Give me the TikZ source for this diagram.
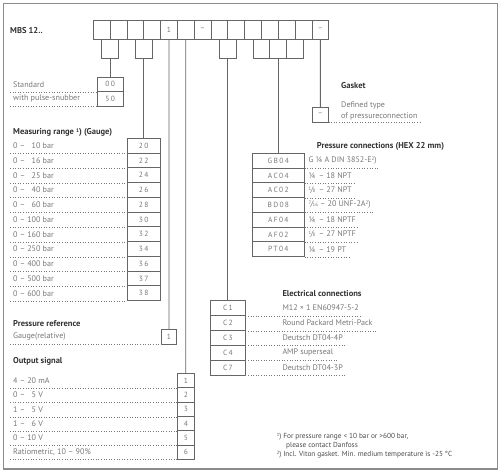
\documentclass[tikz,border=0pt]{standalone}
\usepackage{fontspec}
\usepackage{graphicx}
\setmainfont{PT Sans}
\newfontfamily\cellfont[LetterSpace=18]{PT Sans}
\definecolor{linegray}{HTML}{666666}
\definecolor{labelgray}{HTML}{777777}
\definecolor{headcol}{HTML}{333333}
\definecolor{framecol}{HTML}{8C8C8C}
\definecolor{footcol}{HTML}{4A4A4A}
\newcommand\fr[2]{\raisebox{0.5ex}{\scalebox{0.6}{#1}}\kern-0.08em/\kern-0.08em\scalebox{0.6}{#2}}
\newcommand\sups[1]{\raisebox{0.55ex}{\scalebox{0.62}{#1}})}
\begin{document}
\begin{tikzpicture}[x=1pt,y=-1pt,
  cell/.style={draw=linegray, line width=0.85pt, inner sep=0pt, font=\cellfont\fontsize{7.5}{9}\selectfont, text=labelgray},
  lbl/.style={anchor=west, inner xsep=3pt, inner ysep=0pt, font=\fontsize{8.1}{9.6}\selectfont, text=labelgray},
  head/.style={anchor=west, inner sep=0pt, font=\bfseries\fontsize{8.5}{10}\selectfont, text=headcol},
  leader/.style={draw=labelgray, dotted, line width=0.6pt},
  conn/.style={draw=linegray, line width=0.85pt},
  foot/.style={anchor=west, inner sep=0pt, font=\fontsize{7.3}{8.6}\selectfont, text=footcol}]
\useasboundingbox (0,0) rectangle (500,473);
\draw[framecol, line width=1.3pt] (3.3,3.3) rectangle (497.3,469);

% title
\node[head] (title) at (10,31) {MBS 12..};

% top row of code cells
\foreach \i/\c in {1/{},2/{},3/{},4/{},5/1,6/{},7/–,8/{},9/{},10/{},11/{},12/{},13/{},14/–}
  \node[cell, minimum width=16.82pt, minimum height=19.3pt] (t\i) at ({93.3+16.82*(\i-0.5)},29.65) {\c};

% second level boxes
\tikzset{sub/.style={cell, minimum width=16.82pt, minimum height=19pt}}
\node[sub] (sA) at (110.12,48.8) {};
\node[sub] (sB) at (143.76,48.8) {};
\node[sub] (sC) at (227.86,48.8) {};
\node[sub] (sD1) at (261.50,48.8) {};
\node[sub] (sD2) at (278.32,48.8) {};
\node[sub] (sD3) at (295.14,48.8) {};

% Standard / snubber
\node[cell, minimum width=26pt, minimum height=14.5pt] (std1) at (110.12,84.25) {00};
\node[cell, minimum width=26pt, minimum height=14.5pt] (std2) at (110.12,98.75) {50};
\node[lbl] (stdl1) at (10,84.25) {Standard};
\node[lbl] (stdl2) at (10,98.75) {with pulse-snubber};
\draw[leader] (stdl1.west |- std1.south west) -- (std1.south west);
\draw[leader] (stdl2.west |- std2.south west) -- (std2.south west);
\draw[conn] (sA.south) -- (std1.north);

% Measuring range
\node[head] (mrh) at (13,132.7) {Measuring range \sups{1} (Gauge)};
\foreach \k/\c/\t in {1/20/{0 – \hphantom{1}10 bar},2/22/{0 – \hphantom{1}16 bar},3/24/{0 – \hphantom{1}25 bar},4/26/{0 – \hphantom{1}40 bar},5/28/{0 – \hphantom{1}60 bar},6/30/{0 – 100 bar},7/32/{0 – 160 bar},8/34/{0 – 250 bar},9/36/{0 – 400 bar},10/37/{0 – 500 bar},11/38/{0 – 600 bar}}{
  \node[cell, minimum width=33.3pt, minimum height=14.76pt] (mr\k) at (143.76,{138.3+14.76*(\k-0.5)}) {\c};
  \node[lbl] (mrl\k) at (10,{138.3+14.76*(\k-0.5)}) {\t};
  \draw[leader] (mrl\k.west |- mr\k.south west) -- (mr\k.south west);
}
\draw[conn] (sB.south) -- (mr1.north);

% Pressure reference
\node[head] (prh) at (13,324) {Pressure reference};
\node[cell, minimum width=14.7pt, minimum height=15pt] (pr) at (168.99,336.8) {1};
\node[lbl] (prl) at (10,336.8) {Gauge(relative)};
\draw[leader] (prl.west |- pr.south west) -- (pr.south west);
\draw[conn] (t5.south) -- (pr.north);

% Output signal
\node[head] (osh) at (13,361) {Output signal};
\foreach \k/\t in {1/{4 – 20 mA},2/{0 – \hphantom{1}5 V},3/{1 – \hphantom{1}5 V},4/{1 – \hphantom{1}6 V},5/{0 – 10 V},6/{Ratiometric, 10 – 90\%}}{
  \node[cell, minimum width=16.6pt, minimum height=14.3pt] (os\k) at (185.81,{373.5+14.3*(\k-0.5)}) {\k};
  \node[lbl] (osl\k) at (10,{373.5+14.3*(\k-0.5)}) {\t};
  \draw[leader] (osl\k.west |- os\k.south west) -- (os\k.south west);
}
\draw[conn] (t6.south) -- (os1.north);

% Electrical connections
\node[head] (ech) at (282.3,294) {Electrical connections};
\foreach \k/\c/\t in {1/C1/{M12 × 1 EN60947-5-2},2/C2/{Round Packard Metri-Pack},3/C3/{Deutsch DT04-4P},4/C4/{AMP superseal},5/C7/{Deutsch DT04-3P}}{
  \node[cell, minimum width=34.3pt, minimum height=14.86pt] (c\k) at (227.86,{300.7+14.86*(\k-0.5)}) {\c};
  \node[lbl] (cl\k) at (279.3,{300.7+14.86*(\k-0.5)}) {\t};
  \draw[leader] (c\k.south east) -- (c\k.south east -| cl\k.east);
}
\draw[conn] (sC.south) -- (c1.north);

% Pressure connections
\node[head] (pch) at (316.7,146) {Pressure connections (HEX 22 mm)};
\foreach \k/\c/\t in {1/GB04/{G ¼ A DIN 3852-E\sups{2}},2/AC04/{¼ \,– 18 NPT},3/AC02/{\fr{1}{8} \,– 27 NPT},4/BD08/{\fr{7}{16} – 20 UNF-2A\sups{2}},5/AF04/{¼ \,– 18 NPTF},6/AF02/{\fr{1}{8} \,– 27 NPTF},7/PT04/{¼ \,– 19 PT}}{
  \node[cell, minimum width=51.6pt, minimum height=14.76pt] (pc\k) at (278.32,{153.3+14.76*(\k-0.5)}) {\c};
  \node[lbl] (pcl\k) at (305.3,{153.3+14.76*(\k-0.5)}) {\t};
  \draw[leader] (pc\k.south east) -- (pc\k.south east -| pcl\k.east);
}
\draw[conn] (sD2.south) -- (pc1.north);

% Gasket
\node[head] (gh) at (341,86) {Gasket};
\node[cell, minimum width=15.7pt, minimum height=14.5pt] (gb) at (320.37,114.75) {–};
\node[lbl] (gl1) at (338,105.5) {Defined type};
\node[lbl] (gl2) at (338,116.5) {of pressureconnection};
\draw[leader] (gb.south east) -- (gb.south east -| gl2.east);
\draw[conn] (t14.south) -- (gb.north);

% Footnotes
\node[foot] (f1) at (276.7,436.7) {\sups{1} For pressure range < 10 bar or >600 bar,};
\node[foot] (f2) at (286,445.7) {please contact Danfoss};
\node[foot] (f3) at (276.7,455) {\sups{2} Incl. Viton gasket. Min. medium temperature is -25 °C};
\end{tikzpicture}
\end{document}
